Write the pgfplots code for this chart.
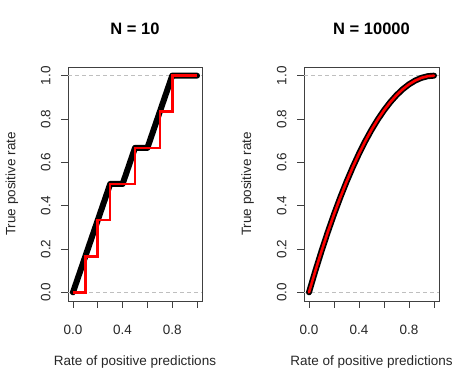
\documentclass[border=0pt]{standalone}
\usepackage{pgfplots}
\pgfplotsset{compat=1.18}
\usepackage{fontspec}
\setmainfont{Liberation Sans}
\begin{document}
\begin{tikzpicture}[x=1pt,y=1pt]
\useasboundingbox (0,0) rectangle (474,387);
\pgfplotsset{rstyle/.style={
 scale only axis, width=134pt, height=234pt,
 xmin=-0.04,xmax=1.04,ymin=-0.04,ymax=1.04,
 clip=false,
 axis line style={black!75, line width=0.8pt},
 xtick={0,0.2,0.4,0.6,0.8,1}, xticklabels={0.0,,0.4,,0.8,},
 ytick={0,0.2,0.4,0.6,0.8,1}, yticklabels={0.0,0.2,0.4,0.6,0.8,1.0},
 tick align=outside, tick pos=left, major tick length=7pt,
 tick style={black!75, line width=0.8pt},
 /pgf/number format/assume math mode=true,
 ticklabel style={font=\fontsize{13.5}{16}\selectfont, text=black!85},
 yticklabel style={rotate=90, anchor=south},
 xticklabel style={anchor=north},
 xticklabel shift=14pt, yticklabel shift=7pt,
 xlabel={Rate of positive predictions}, ylabel={True positive rate},
 label style={font=\fontsize{13.5}{16}\selectfont, text=black!85},
 xlabel style={at={(axis description cs:0.5,-0.2607)}, anchor=center},
 ylabel style={at={(axis description cs:-0.418,0.5)}, anchor=center},
 title style={at={(axis description cs:0.5,1.1368)}, anchor=center, font=\bfseries\fontsize{16.5}{18}\selectfont},
}}
\begin{axis}[rstyle, at={(68pt,86pt)}, anchor=south west, title={N = 10}]
\addplot[black!25, dash pattern=on 4pt off 3pt, line width=0.8pt] coordinates {(-0.04,0) (1.04,0)};
\addplot[black!25, dash pattern=on 4pt off 3pt, line width=0.8pt] coordinates {(-0.04,1) (1.04,1)};
\addplot[black, line width=6pt, line join=round, line cap=round] coordinates {
(0,0) (0.3,0.5) (0.4,0.5) (0.5,0.6667) (0.6,0.6667) (0.8,1) (1,1)};
\addplot[red, line width=2.6pt, line join=miter, mark=none] coordinates {
(0,0) (0.1,0) (0.1,0.1667) (0.2,0.1667) (0.2,0.3333) (0.3,0.3333) (0.3,0.5) (0.5,0.5)
(0.5,0.6667) (0.7,0.6667) (0.7,0.8333) (0.8,0.8333) (0.8,1) (1,1)};
\end{axis}
\begin{axis}[rstyle, width=135pt, at={(304pt,86pt)}, anchor=south west, title={N = 10000}]
\addplot[black!25, dash pattern=on 4pt off 3pt, line width=0.8pt] coordinates {(-0.04,0) (1.04,0)};
\addplot[black!25, dash pattern=on 4pt off 3pt, line width=0.8pt] coordinates {(-0.04,1) (1.04,1)};
\addplot[black, line width=6pt, line join=round, line cap=round] coordinates {
(0,0) (0.05,0.0975) (0.1,0.19) (0.15,0.2775) (0.2,0.36) (0.25,0.4375) (0.3,0.51)
(0.35,0.5775) (0.4,0.64) (0.45,0.6975) (0.5,0.75) (0.55,0.7975) (0.6,0.84)
(0.65,0.8775) (0.7,0.91) (0.75,0.9375) (0.8,0.96) (0.85,0.9775) (0.9,0.99)
(0.95,0.9975) (1,1)};
\addplot[red, line width=2.6pt, line join=round, line cap=round] coordinates {
(0,0) (0.05,0.0975) (0.1,0.19) (0.15,0.2775) (0.2,0.36) (0.25,0.4375) (0.3,0.51)
(0.35,0.5775) (0.4,0.64) (0.45,0.6975) (0.5,0.75) (0.55,0.7975) (0.6,0.84)
(0.65,0.8775) (0.7,0.91) (0.75,0.9375) (0.8,0.96) (0.85,0.9775) (0.9,0.99)
(0.95,0.9975) (1,1)};
\end{axis}
\end{tikzpicture}
\end{document}
